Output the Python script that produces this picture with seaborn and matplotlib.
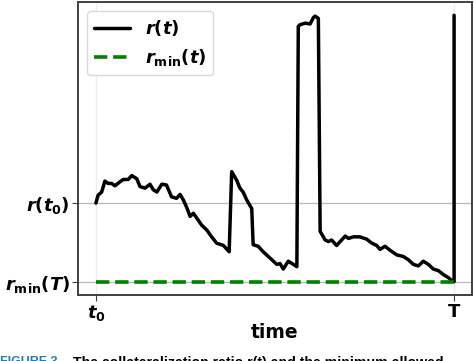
import seaborn as sns
import matplotlib.pyplot as plt
import pandas as pd

# collateralization ratio r(t) (t0 = 0, T = 1; r_min = 0, r(t0) = 1)
t = [0.000, 0.006, 0.016, 0.025, 0.034, 0.044, 0.053, 0.067, 0.076, 0.090,
     0.100, 0.114, 0.123, 0.137, 0.151, 0.160, 0.170, 0.184, 0.197, 0.211,
     0.225, 0.235, 0.244, 0.253, 0.263, 0.272, 0.286, 0.295, 0.309, 0.323,
     0.337, 0.356, 0.372, 0.379, 0.393, 0.402, 0.411, 0.421, 0.435, 0.439,
     0.453, 0.467, 0.486, 0.505, 0.514, 0.523, 0.537, 0.551, 0.561, 0.565,
     0.570, 0.584, 0.598, 0.607, 0.612, 0.621, 0.626, 0.640, 0.649, 0.658,
     0.672, 0.686, 0.696, 0.705, 0.719, 0.737, 0.756, 0.770, 0.784, 0.793,
     0.807, 0.821, 0.840, 0.858, 0.872, 0.886, 0.900, 0.914, 0.928, 0.942,
     0.956, 0.970, 0.984, 0.994, 1.000, 1.000]
r = [1.00, 1.10, 1.14, 1.28, 1.25, 1.25, 1.22, 1.27, 1.30, 1.30,
     1.35, 1.31, 1.21, 1.19, 1.24, 1.17, 1.14, 1.24, 1.23, 1.08,
     1.06, 1.11, 1.04, 0.95, 0.83, 0.87, 0.78, 0.72, 0.66, 0.57,
     0.49, 0.46, 0.38, 1.40, 1.29, 1.19, 1.14, 1.04, 0.93, 0.47,
     0.45, 0.38, 0.30, 0.22, 0.23, 0.16, 0.26, 0.22, 0.19, 3.25,
     3.27, 3.29, 3.28, 3.36, 3.38, 3.35, 0.64, 0.53, 0.51, 0.53,
     0.46, 0.53, 0.58, 0.55, 0.57, 0.57, 0.54, 0.49, 0.46, 0.41,
     0.45, 0.40, 0.34, 0.32, 0.28, 0.22, 0.20, 0.26, 0.22, 0.16,
     0.14, 0.09, 0.05, 0.01, 0.00, 3.39]

t_min = [0.0, 1.0]
r_min = [0.0, 0.0]

xtick_pos = [0.0, 1.0]
xtick_labels = ['$t_0$', 'T']
ytick_pos = [0.0, 1.0]
ytick_labels = [r'$r_{\min}(T)$', r'$r(t_0)$']

sns.set_style('ticks')
plt.rcParams['font.family'] = ['DejaVu Sans']
plt.rcParams['font.weight'] = 'bold'
plt.rcParams['text.color'] = 'black'
plt.rcParams['axes.labelcolor'] = 'black'
plt.rcParams['mathtext.fontset'] = 'custom'
plt.rcParams['mathtext.rm'] = 'DejaVu Sans:bold'
plt.rcParams['mathtext.it'] = 'DejaVu Sans:bold:italic'
plt.rcParams['mathtext.bf'] = 'DejaVu Sans:bold'

ratio = pd.DataFrame({'t': t, 'r': r})
floor = pd.DataFrame({'t': t_min, 'r': r_min})

fig = plt.figure(figsize=(4.74, 3.61), dpi=100)
ax = fig.add_axes([0.1646, 0.183, 0.8312, 0.8115])

sns.lineplot(data=ratio, x='t', y='r', sort=False, estimator=None,
             color='black', linewidth=2.5, label='$r(t)$', ax=ax)
sns.lineplot(data=floor, x='t', y='r', sort=False, estimator=None,
             color='green', linewidth=2.6, linestyle='--',
             label=r'$r_{\min}(t)$', ax=ax)

ax.set_xticks(xtick_pos)
ax.set_xticklabels(xtick_labels, fontsize=13)
ax.set_yticks(ytick_pos)
ax.set_yticklabels(ytick_labels, fontsize=13)
ax.tick_params(length=4, pad=2, color='0.25', labelcolor='black')
ax.xaxis.grid(True, color='0.93', linewidth=1)
ax.yaxis.grid(True, color='0.72', linewidth=0.9)
ax.set_axisbelow(True)
for s in ax.spines.values():
    s.set_color('0.25')
    s.set_linewidth(1.4)

ax.set_xlabel('time', fontsize=13.5, fontweight='bold', labelpad=0)
ax.set_ylabel('')
ax.legend(loc='upper left', fontsize=13, framealpha=1, edgecolor='0.85')

# cropped caption of the source figure
fig.text(0.0, 0.013, 'FIGURE 3.', color='#2a7ab9', fontsize=9,
         fontweight='bold', va='top', family=['Liberation Sans', 'DejaVu Sans'])
fig.text(0.154, 0.013, 'The collateralization ratio r(t) and the minimum allowed',
         color='black', fontsize=10.2, fontweight='bold', va='top',
         family=['Liberation Sans', 'DejaVu Sans'])

plt.savefig('out.png', dpi=100)
